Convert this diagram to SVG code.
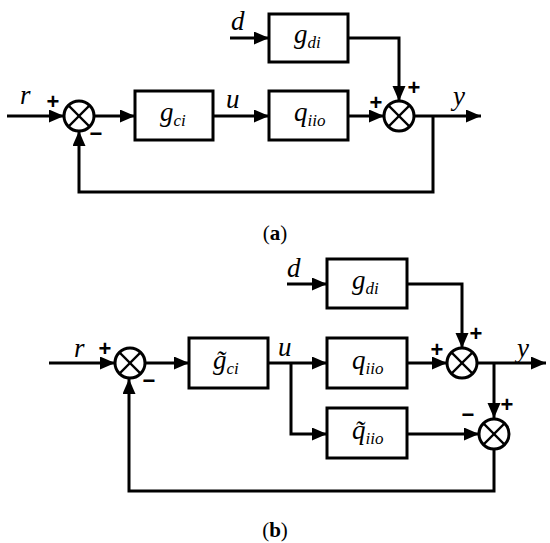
<svg xmlns="http://www.w3.org/2000/svg" width="550" height="543" viewBox="0 0 550 543">
<style>
.ln{fill:none;stroke:#000;stroke-width:3}
.bx{fill:#fff;stroke:#000;stroke-width:3}
.sj{fill:#fff;stroke:#000;stroke-width:3}
.x{stroke:#000;stroke-width:2.2}
.v{font-family:"Liberation Serif","Times New Roman",serif;font-style:italic;font-size:27px}
.s{font-size:17px}
.sg{font-family:"Liberation Sans",Arial,sans-serif;font-weight:bold;font-size:22px;text-anchor:middle}
.cap{font-family:"Liberation Serif","Times New Roman",serif;font-size:21px;text-anchor:middle}
</style>
<defs>
<marker id="ar" markerUnits="userSpaceOnUse" markerWidth="16" markerHeight="14" refX="15" refY="6.5" orient="auto">
<path d="M0,0 L15,6.5 L0,13 z" fill="#000"/>
</marker>
<g id="sum">
<circle r="15" class="sj"/>
<line x1="-10.6" y1="-10.6" x2="10.6" y2="10.6" class="x"/>
<line x1="-10.6" y1="10.6" x2="10.6" y2="-10.6" class="x"/>
</g>
</defs>

<g id="connectors">
<line x1="7" y1="116" x2="64" y2="116" class="ln" marker-end="url(#ar)"/>
<line x1="94" y1="116" x2="135" y2="116" class="ln" marker-end="url(#ar)"/>
<line x1="213" y1="116" x2="269" y2="116" class="ln" marker-end="url(#ar)"/>
<line x1="348" y1="116" x2="384" y2="116" class="ln" marker-end="url(#ar)"/>
<line x1="230" y1="38" x2="269" y2="38" class="ln" marker-end="url(#ar)"/>
<path d="M348,38 H399 V101" class="ln" marker-end="url(#ar)"/>
<line x1="414" y1="116" x2="481" y2="116" class="ln" marker-end="url(#ar)"/>
<path d="M433,116 V192 H79 V131" class="ln" marker-end="url(#ar)"/>
<line x1="49" y1="363" x2="115" y2="363" class="ln" marker-end="url(#ar)"/>
<line x1="145" y1="363" x2="189" y2="363" class="ln" marker-end="url(#ar)"/>
<line x1="268" y1="363" x2="327" y2="363" class="ln" marker-end="url(#ar)"/>
<line x1="407" y1="363" x2="447" y2="363" class="ln" marker-end="url(#ar)"/>
<line x1="287" y1="284" x2="327" y2="284" class="ln" marker-end="url(#ar)"/>
<path d="M407,284 H462 V348" class="ln" marker-end="url(#ar)"/>
<line x1="477" y1="363" x2="546" y2="363" class="ln" marker-end="url(#ar)"/>
<path d="M494,363 V418" class="ln" marker-end="url(#ar)"/>
<path d="M291,363 V434 H327" class="ln" marker-end="url(#ar)"/>
<line x1="407" y1="434" x2="479" y2="434" class="ln" marker-end="url(#ar)"/>
<path d="M494,449 V491 H129 V379" class="ln" marker-end="url(#ar)"/>
</g>

<g id="a-sum1"><use href="#sum" x="79" y="116"/></g>
<g id="a-gci"><rect x="135" y="91" width="78" height="49" class="bx"/>
<text x="160" y="121" class="v">g<tspan class="s" dy="5">ci</tspan></text></g>
<g id="a-qiio"><rect x="269" y="91" width="79" height="49" class="bx"/>
<text x="294" y="121" class="v">q<tspan class="s" dy="5">iio</tspan></text></g>
<g id="a-gdi"><rect x="269" y="14" width="79" height="48" class="bx"/>
<text x="294" y="43" class="v">g<tspan class="s" dy="5">di</tspan></text></g>
<g id="a-sum2"><use href="#sum" x="399" y="116"/></g>

<g id="a-labels">
<text x="20" y="104" class="v">r</text>
<text x="226" y="108" class="v">u</text>
<text x="453" y="105" class="v">y</text>
<text x="231" y="30" class="v">d</text>
<text x="53" y="109" class="sg">+</text>
<text x="96" y="141" class="sg">−</text>
<text x="414" y="95" class="sg">+</text>
<text x="376" y="110" class="sg">+</text>
<text x="275" y="240" class="cap">(<tspan font-weight="bold">a</tspan>)</text>
</g>

<g id="b-sum1"><use href="#sum" x="130" y="363"/></g>
<g id="b-gci"><rect x="189" y="338" width="79" height="50" class="bx"/>
<text x="213" y="369" class="v">g̃<tspan class="s" dy="5">ci</tspan></text></g>
<g id="b-gdi"><rect x="327" y="259" width="80" height="49" class="bx"/>
<text x="352" y="289" class="v">g<tspan class="s" dy="5">di</tspan></text></g>
<g id="b-qiio"><rect x="327" y="338" width="80" height="50" class="bx"/>
<text x="352" y="369" class="v">q<tspan class="s" dy="5">iio</tspan></text></g>
<g id="b-qtiio"><rect x="327" y="408" width="80" height="50" class="bx"/>
<text x="352" y="439" class="v">q̃<tspan class="s" dy="5">iio</tspan></text></g>
<g id="b-sum2"><use href="#sum" x="462" y="363"/></g>
<g id="b-sum3"><use href="#sum" x="494" y="434"/></g>

<g id="b-labels">
<text x="74" y="357" class="v">r</text>
<text x="278" y="356" class="v">u</text>
<text x="517" y="357" class="v">y</text>
<text x="287" y="277" class="v">d</text>
<text x="105" y="356" class="sg">+</text>
<text x="149" y="388" class="sg">−</text>
<text x="476" y="341" class="sg">+</text>
<text x="437" y="357" class="sg">+</text>
<text x="468" y="422" class="sg">−</text>
<text x="507" y="412" class="sg">+</text>
<text x="275" y="537" class="cap">(<tspan font-weight="bold">b</tspan>)</text>
</g>
</svg>
